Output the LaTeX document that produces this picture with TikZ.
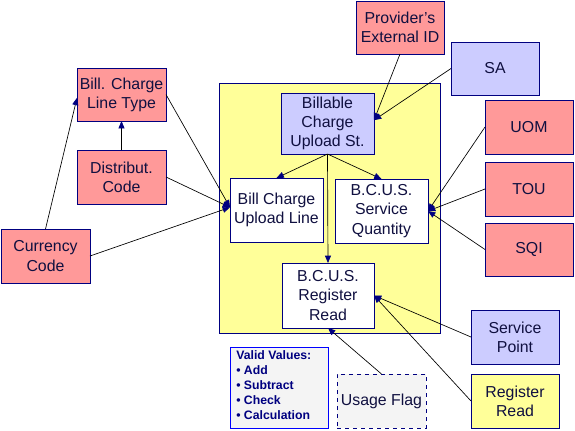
\documentclass[tikz,border=0pt]{standalone}
\usepackage{fontspec}
\setmainfont{Liberation Sans}
\usetikzlibrary{arrows.meta}
\definecolor{pinkc}{HTML}{FF9999}
\definecolor{lavc}{HTML}{CCCCFF}
\definecolor{yelc}{HTML}{FFFF99}
\definecolor{bord}{HTML}{000080}
\definecolor{grayc}{HTML}{F4F4F4}
\definecolor{bluec}{HTML}{0000FF}
\definecolor{txt}{HTML}{101040}
\newcommand{\mainfs}{\fontsize{11.9}{14.4}\selectfont}
\newcommand{\smallfs}{\fontsize{9.2}{11.25}\selectfont\bfseries}
\tikzset{
  base/.style={draw=bord, line width=0.75pt, inner sep=0pt, outer sep=0pt, align=center, font=\mainfs, text=txt},
  pinkbox/.style={base, fill=pinkc},
  lavbox/.style={base, fill=lavc},
  yelbox/.style={base, fill=yelc},
  whitebox/.style={base, fill=white},
  arr/.style={draw=black, line width=0.5pt, -{Triangle[length=5.5pt,width=4.5pt,color=bord]}},
}
\begin{document}
\begin{tikzpicture}[x=0.75pt,y=-0.75pt]
\useasboundingbox (0,0) rectangle (575,430);
% container
\node[yelbox, minimum width=165.75pt, minimum height=187.5pt] (cont) at (329.5,208) {};
% left boxes
\node[pinkbox, minimum width=66.75pt, minimum height=39.75pt] (bclt) at (121.5,94.5) {Bill. Charge\\Line Type};
\node[pinkbox, minimum width=66.75pt, minimum height=40.5pt] (dist) at (121.5,177) {Distribut.\\Code};
\node[pinkbox, minimum width=66.75pt, minimum height=40.5pt] (curr) at (45.5,256) {Currency\\Code};
% inner boxes
\node[lavbox, minimum width=69.75pt, minimum height=45.75pt] (bcus) at (327.5,123.5) {Billable\\Charge\\Upload St.};
\node[whitebox, minimum width=69.75pt, minimum height=48pt] (bcul) at (276.5,210) {Bill Charge\\Upload Line};
\node[whitebox, minimum width=69.75pt, minimum height=48pt] (bsq) at (381.5,211) {B.C.U.S.\\Service\\Quantity};
\node[whitebox, minimum width=69pt, minimum height=48.75pt] (brr) at (328,295.5) {B.C.U.S.\\Register\\Read};
% bottom boxes
\node[base, draw=bluec, fill=grayc, minimum width=73.5pt, minimum height=60.75pt] (valid) at (279,387.5) {};
\node[anchor=north west, inner sep=0pt, align=left, font=\smallfs, text=bord] (validtxt) at (236,350) {Valid Values:\\• Add\\• Subtract\\• Check\\• Calculation};
\node[base, fill=grayc, dashed, minimum width=66.75pt, minimum height=40.5pt] (usage) at (381.5,401) {Usage Flag};
% right boxes
\node[pinkbox, minimum width=66pt, minimum height=39.75pt] (prov) at (400,27.5) {Provider’s\\External ID};
\node[lavbox, minimum width=66pt, minimum height=39.75pt] (sa) at (495,68.5) {SA};
\node[pinkbox, minimum width=66pt, minimum height=40.5pt] (uom) at (529,127) {UOM};
\node[pinkbox, minimum width=66pt, minimum height=40.5pt] (tou) at (529,189) {TOU};
\node[pinkbox, minimum width=66pt, minimum height=39.75pt] (sqi) at (529,249.5) {SQI};
\node[lavbox, minimum width=66pt, minimum height=40.5pt] (sp) at (515,337) {Service\\Point};
\node[yelbox, minimum width=66pt, minimum height=40.5pt] (rr) at (515,401) {Register\\Read};
% arrows
\coordinate (bcltin) at ([yshift=-2.5pt]bclt.west);
\coordinate (bculin) at ([yshift=2pt]bcul.west);
\coordinate (bcusin) at ([yshift=2.5pt]bcus.east);
\draw[arr] (curr.north) -- (bcltin);
\draw[arr] (dist.north) -- (bclt.south);
\draw[arr] (bclt.east) -- (bculin);
\draw[arr] (dist.east) -- (bculin);
\draw[arr] (curr.east) -- (bculin);
\draw[arr] (prov.south) -- (bcusin);
\draw[arr] (sa.west) -- (bcusin);
\draw[arr] (bcus.south) -- (bcul.north);
\draw[arr] (bcus.south) -- (bsq.north);
\draw[arr] (bcus.south) -- (brr.north);
\draw[arr] (uom.west) -- (bsq.east);
\draw[arr] (tou.west) -- (bsq.east);
\draw[arr] (sqi.west) -- (bsq.east);
\draw[arr] (sp.west) -- (brr.east);
\draw[arr] (rr.west) -- (brr.east);
\draw[arr] (usage.north) -- (brr.south);
\end{tikzpicture}
\end{document}
